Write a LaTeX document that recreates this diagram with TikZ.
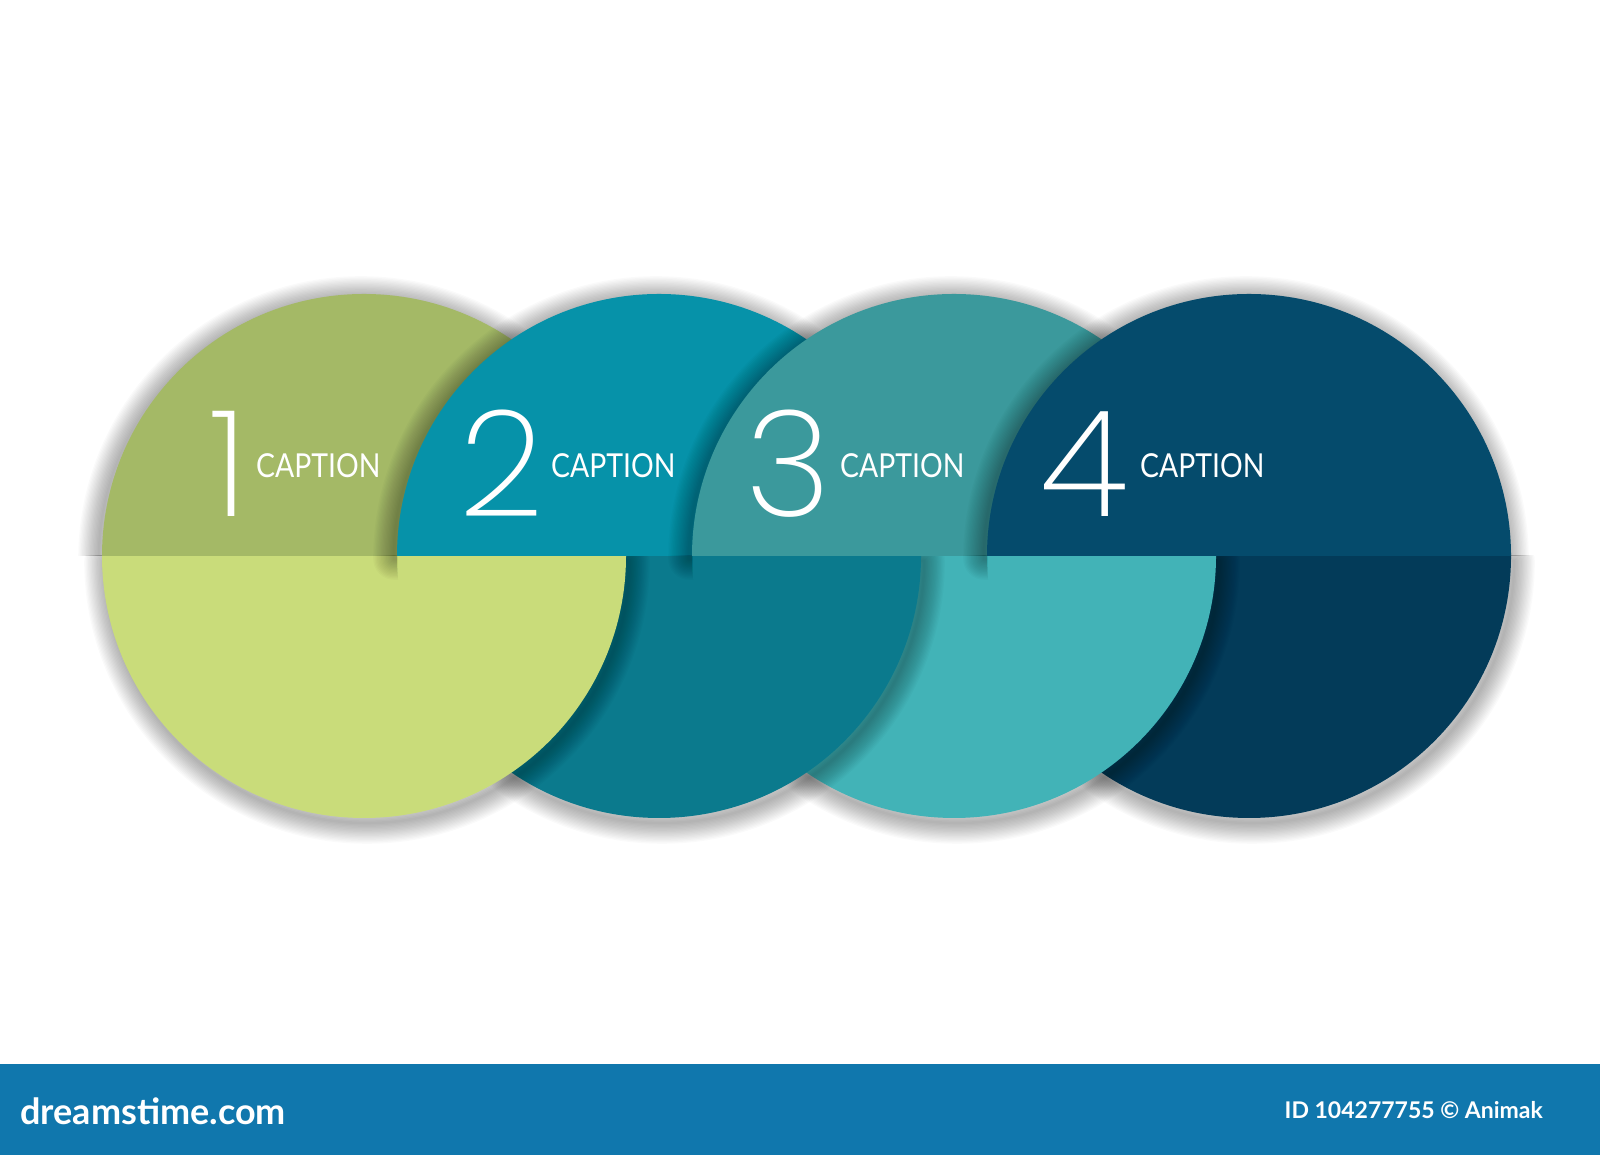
\documentclass[tikz,border=0pt]{standalone}
\usepackage{fontspec}
\setmainfont{Lato}
\IfFontExistsTF{Poppins ExtraLight}{\newfontfamily\numfont{Poppins ExtraLight}}{%
  \IfFontExistsTF{Poppins Thin}{\newfontfamily\numfont{Poppins Thin}}{\newfontfamily\numfont{Lato Hairline}}}
\definecolor{c1t}{HTML}{A4B966}
\definecolor{c1b}{HTML}{C9DC7A}
\definecolor{c2t}{HTML}{0692A9}
\definecolor{c2b}{HTML}{0B7A8D}
\definecolor{c3t}{HTML}{3B999C}
\definecolor{c3b}{HTML}{42B3B7}
\definecolor{c4t}{HTML}{054B6C}
\definecolor{c4b}{HTML}{033B59}
\definecolor{barblue}{HTML}{1077AD}
\newcommand\softshadow[3]{%
  \begin{scope}[shift={(#1,#2)}]
    \foreach \w in {1,...,16}{%
      \draw[black, opacity=0.02, line width=2.6*\w*1pt, line join=round] #3;
    }
  \end{scope}}
\tikzset{
  numtxt/.style={inner sep=0pt, text=white, font=\numfont\fontsize{148}{148}\selectfont, anchor=base},
  captxt/.style={inner sep=0pt, text=white, font=\fontsize{33}{33}\selectfont, anchor=base west},
  bartxt/.style={inner sep=0pt, text=white, font=\bfseries}
}
\begin{document}
\begin{tikzpicture}[x=1pt,y=1pt]
\useasboundingbox (0,0) rectangle (1600,1155);
\fill[white] (0,0) rectangle (1600,1155);
% bottom halves (circle 1 on top)
\foreach \cx/\col in {1249/c4b, 954/c3b, 659/c2b, 364/c1b}{
  \begin{scope}
    \clip (-20,-20) rectangle (1620,599);
    \softshadow{3}{-5}{({\cx-262},599) arc[start angle=180, end angle=360, radius=262] -- cycle}
  \end{scope}
  \fill[\col] ({\cx-262},599) arc[start angle=180, end angle=360, radius=262] -- cycle;
}
% top halves (circle 4 on top)
\foreach \cx/\px/\col in {364/-3000/c1t, 659/364/c2t, 954/659/c3t, 1249/954/c4t}{
  % halo above the split line
  \begin{scope}
    \clip (-20,599) rectangle (1620,1175);
    \softshadow{-3}{-3}{({\cx-262},599) arc[start angle=180, end angle=0, radius=262] -- cycle}
  \end{scope}
  % shadow cast on the previous circle's lower half
  \begin{scope}
    \clip ({\px-262},599) arc[start angle=180, end angle=360, radius=262] -- cycle;
    \begin{scope}[even odd rule]
      \clip (-20,-20) rectangle (1620,1175)
        ({\cx-262},599) arc[start angle=180, end angle=360, radius=262] -- cycle;
      \softshadow{-3}{-3}{({\cx-262},599) arc[start angle=180, end angle=0, radius=262] -- cycle}
    \end{scope}
  \end{scope}
  \fill[\col] ({\cx-262},599) arc[start angle=180, end angle=0, radius=262] -- cycle;
}
% labels
\node[numtxt] (n1) at (229,638) {1};
\node[captxt] (t1) at (256,677.5) {\scalebox{0.86}[1]{CAPTION}};
\node[numtxt] (n2) at (502,638) {2};
\node[captxt] (t2) at (551,677.5) {\scalebox{0.86}[1]{CAPTION}};
\node[numtxt] (n3) at (788,638) {3};
\node[captxt] (t3) at (840,677.5) {\scalebox{0.86}[1]{CAPTION}};
\node[numtxt] (n4) at (1084,638) {4};
\node[captxt] (t4) at (1140,677.5) {\scalebox{0.86}[1]{CAPTION}};
% bottom bar
\fill[barblue] (0,0) rectangle (1600,91);
\node[bartxt, anchor=base west, font=\bfseries\fontsize{36}{36}\selectfont] (logo) at (20,30) {dreamstime.com};
\node[bartxt, anchor=base east, font=\bfseries\fontsize{23}{23}\selectfont] (id) at (1543,36) {ID 104277755 © Animak};
\end{tikzpicture}
\end{document}
